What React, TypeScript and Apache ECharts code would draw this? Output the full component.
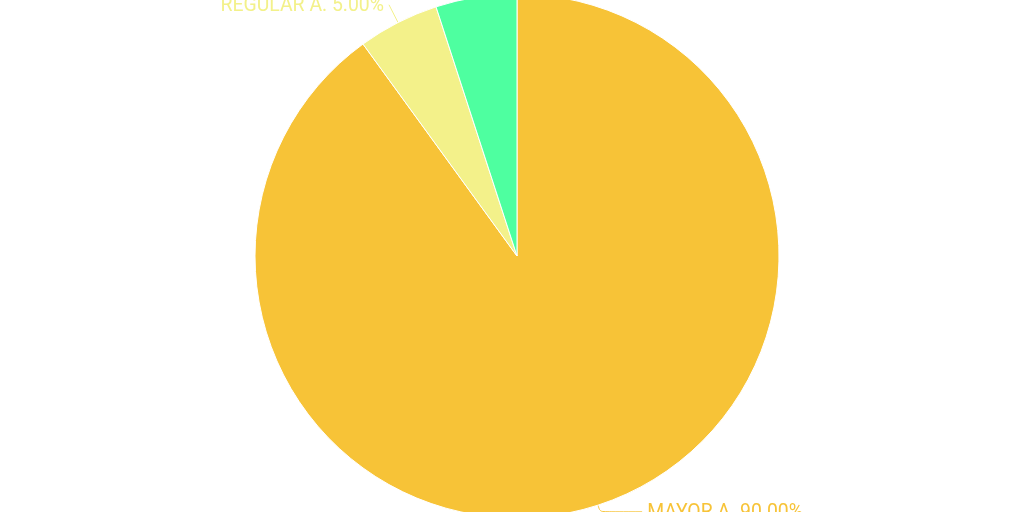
import React, { useEffect, useRef } from 'react';
import * as echarts from 'echarts';

const names = ['MAYOR A.', 'REGULAR A.', 'MENOR A.'];
const values = [90, 5, 5];
const colors = ['#F7C337', '#F3F18A', '#4EFFA0'];
const lineLengths = [
  [7, 42],
  [20, 0],
  [20, 10],
];

const App: React.FC = () => {
  const chartRef = useRef<HTMLDivElement>(null);

  useEffect(() => {
    if (!chartRef.current) return;
    const myChart = echarts.init(chartRef.current, undefined, { renderer: 'svg' });

    const option: echarts.EChartsOption = {
      animation: false,
      series: [
        {
          type: 'pie',
          center: [517, 256],
          radius: 262,
          startAngle: 90,
          clockwise: true,
          avoidLabelOverlap: false,
          itemStyle: { borderColor: '#fff', borderWidth: 1 },
          label: {
            show: true,
            fontFamily: 'Roboto',
            fontSize: 19.4,
            formatter: (p: any) => `${p.name} ${p.percent.toFixed(2)}%`,
          },
          labelLine: { show: true, smooth: true },
          data: names.map((n, i) => ({
            name: n,
            value: values[i],
            itemStyle: { color: colors[i] },
            label: { color: colors[i] },
            labelLine: {
              length: lineLengths[i][0],
              length2: lineLengths[i][1],
              lineStyle: { color: colors[i] },
            },
          })),
        },
      ],
    };

    myChart.setOption(option);
    return () => {
      myChart.dispose();
    };
  }, []);

  return (
    <div
      ref={chartRef}
      style={{ position: 'fixed', left: 0, top: 0, width: '1024px', height: '512px' }}
    />
  );
};

export default App;
